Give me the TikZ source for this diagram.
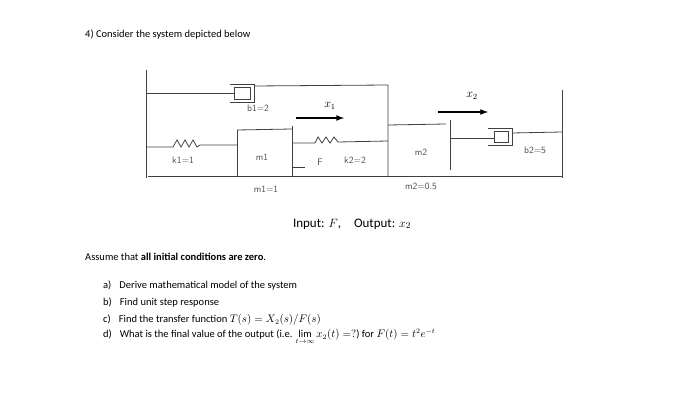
\documentclass[tikz,border=0pt]{standalone}
\usepackage{fontspec}
\setmainfont{Carlito}
\usepackage{amsmath}
\begin{document}
\begin{tikzpicture}[x=1pt,y=-1pt,
  ln/.style={draw=black!75,line width=0.8pt},
  hw/.style={text=black!70,font=\fontsize{9.5}{9.5}\selectfont\sffamily,inner sep=0pt},
  txt/.style={font=\fontsize{10.5}{12}\selectfont,anchor=west,inner sep=0pt},
  arr/.style={-latex,line width=1.6pt}]
\useasboundingbox (0,0) rectangle (700,411);
\node[txt] (t0) at (85,35) {4) Consider the system depicted below};
% walls and floor
\draw[ln] (146,70) -- (146,178);
\draw[ln] (562,90) -- (562,178);
\draw[ln] (148,176) -- (562,176);
% top path with damper b1
\draw[ln] (146,93) -- (234,93);
\draw[ln] (230,84) -- (254,84) -- (254,102) -- (230,102);
\draw[ln] (234,87) rectangle (250,99);
\draw[ln] (254,86) -- (388,85) -- (388,176);
% m1
\draw[ln] (237,130) -- (292,129);
\draw[ln] (237,130) -- (237,176);
\draw[ln] (292,126) -- (292,176);
% spring k1
\draw[ln] (146,147) -- (173,147) -- (177,140) -- (181,147) -- (185,140) -- (189,147) -- (193,140) -- (197,147) -- (200,145) -- (237,145);
% spring k2
\draw[ln] (292,143) -- (315,143) -- (318,137) -- (322,143) -- (326,137) -- (330,143) -- (334,137) -- (338,142) -- (388,141);
% F mark
\draw[ln] (292,167) -- (305,167);
% m2
\draw[ln] (388,125) -- (446,124);
\draw[ln] (450,120) -- (450,170);
% damper b2
\draw[ln] (450,138) -- (494,138);
\draw[ln] (488,128) -- (512,128) -- (512,145) -- (488,145);
\draw[ln] (494,131) rectangle (508,142);
\draw[ln] (512,133) -- (562,132);
% arrows
\coordinate (a1) at (296,118); \coordinate (b1) at (344,118);
\draw[arr] (a1) -- (b1);
\node[font=\large] (x1) at (330,106) {$x_1$};
\coordinate (a2) at (438,112); \coordinate (b2) at (488,112);
\draw[arr] (a2) -- (b2);
\node[font=\large] (x2) at (472,96) {$x_2$};
% handwritten labels
\node[hw] (lb1) at (258,108) {b1=2};
\node[hw] (lk1) at (183,160) {k1=1};
\node[hw] (lm1) at (262,157) {m1};
\node[hw] (lF) at (320,162) {F};
\node[hw] (lk2) at (355,160) {k2=2};
\node[hw] (lm2) at (421,152) {m2};
\node[hw] (lb2) at (535,150) {b2=5};
\node[hw] (lm1v) at (266,189) {m1=1};
\node[hw] (lm2v) at (421,186) {m2=0.5};
% texts
\node[font=\fontsize{13}{15}\selectfont,inner sep=0pt] (io) at (352,224) {Input: $F$,\quad Output: $x_2$};
\node[txt] (as) at (85,257) {Assume that \textbf{all initial conditions are zero}.};
\node[txt] (la) at (103,286) {a)\hspace{8pt}Derive mathematical model of the system};
\node[txt] (lb) at (103,303) {b)\hspace{8pt}Find unit step response};
\node[txt] (lc) at (103,320) {c)\hspace{8pt}Find the transfer function $T(s)=X_2(s)/F(s)$};
\node[txt] (ld) at (103,337) {d)\hspace{8pt}What is the final value of the output (i.e. $\lim\limits_{t\to\infty} x_2(t)=?$) for $F(t)=t^2e^{-t}$};
\end{tikzpicture}
\end{document}
